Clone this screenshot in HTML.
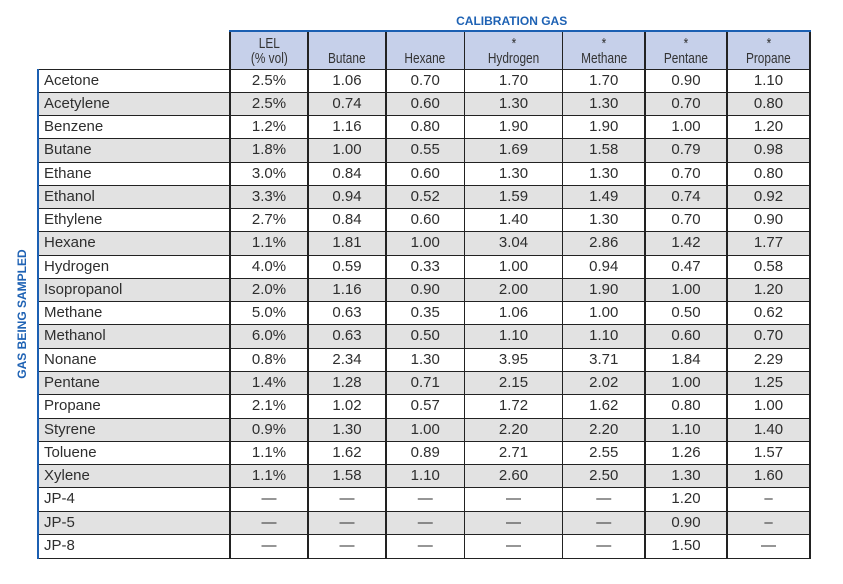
<!DOCTYPE html>
<html><head><meta charset="utf-8"><style>
html,body{margin:0;padding:0;background:#fff;}
body{width:843px;height:584px;position:relative;overflow:hidden;font-family:"Liberation Sans",Arial,sans-serif;color:#2e2e2e;}
.abs{position:absolute;}
#hdrbg{left:230px;top:31px;width:580px;height:38.3px;background:#c6d0ea;}
#blueTop{left:229px;top:30px;width:581.5px;height:2.2px;background:#1b5fb2;}
#blueLeft{left:36.8px;top:69px;width:2.4px;height:490px;background:#1b5fb2;}
.vl{position:absolute;top:31px;width:1.5px;height:528px;background:#222;}
#rows{position:absolute;left:38px;top:68.55px;width:772px;}
.r{display:grid;grid-template-columns:192px 78px 78px 78.5px 98px 82.5px 82px 83px;height:23.28px;box-sizing:border-box;border-top:1.5px solid #222;font-size:15px;line-height:21.78px;}
.r.g{background:#e2e2e2;}
.r.last{border-bottom:1.5px solid #222;height:24.78px;}
.r div{text-align:center;white-space:nowrap;}
.r div:first-child{text-align:left;padding-left:6px;}
.hc{position:absolute;top:31px;height:38px;text-align:center;font-size:15px;line-height:14px;color:#333;}
.hc span{display:inline-block;transform:scaleX(0.79);white-space:nowrap;}
.l1{position:absolute;left:0;right:0;top:6px;}
.l2{position:absolute;left:0;right:0;top:20.6px;}
#cal{left:411.7px;top:14.8px;width:200px;text-align:center;font-weight:bold;font-size:12px;line-height:12px;color:#1e62b4;}
#gas{left:-48px;top:307px;width:140px;height:14px;text-align:center;font-weight:bold;font-size:12px;line-height:14px;color:#1e62b4;transform:rotate(-90deg);}
</style></head><body>
<div class="abs" id="cal">CALIBRATION GAS</div>
<div class="abs" id="gas">GAS BEING SAMPLED</div>
<div class="abs" id="hdrbg"></div>

<div class="hc" style="left:230px;width:78px;"><div class="l1"><span>LEL</span></div><div class="l2"><span>(% vol)</span></div></div>
<div class="hc" style="left:308px;width:78px;"><div class="l2"><span>Butane</span></div></div>
<div class="hc" style="left:386px;width:78.5px;"><div class="l2"><span>Hexane</span></div></div>
<div class="hc" style="left:464.5px;width:98px;"><div class="l1"><span>*</span></div><div class="l2"><span>Hydrogen</span></div></div>
<div class="hc" style="left:562.5px;width:82.5px;"><div class="l1"><span>*</span></div><div class="l2"><span>Methane</span></div></div>
<div class="hc" style="left:645px;width:82px;"><div class="l1"><span>*</span></div><div class="l2"><span>Pentane</span></div></div>
<div class="hc" style="left:727px;width:83px;"><div class="l1"><span>*</span></div><div class="l2"><span>Propane</span></div></div>

<div id="rows">
<div class="r"><div>Acetone</div><div>2.5%</div><div>1.06</div><div>0.70</div><div>1.70</div><div>1.70</div><div>0.90</div><div>1.10</div></div>
<div class="r g"><div>Acetylene</div><div>2.5%</div><div>0.74</div><div>0.60</div><div>1.30</div><div>1.30</div><div>0.70</div><div>0.80</div></div>
<div class="r"><div>Benzene</div><div>1.2%</div><div>1.16</div><div>0.80</div><div>1.90</div><div>1.90</div><div>1.00</div><div>1.20</div></div>
<div class="r g"><div>Butane</div><div>1.8%</div><div>1.00</div><div>0.55</div><div>1.69</div><div>1.58</div><div>0.79</div><div>0.98</div></div>
<div class="r"><div>Ethane</div><div>3.0%</div><div>0.84</div><div>0.60</div><div>1.30</div><div>1.30</div><div>0.70</div><div>0.80</div></div>
<div class="r g"><div>Ethanol</div><div>3.3%</div><div>0.94</div><div>0.52</div><div>1.59</div><div>1.49</div><div>0.74</div><div>0.92</div></div>
<div class="r"><div>Ethylene</div><div>2.7%</div><div>0.84</div><div>0.60</div><div>1.40</div><div>1.30</div><div>0.70</div><div>0.90</div></div>
<div class="r g"><div>Hexane</div><div>1.1%</div><div>1.81</div><div>1.00</div><div>3.04</div><div>2.86</div><div>1.42</div><div>1.77</div></div>
<div class="r"><div>Hydrogen</div><div>4.0%</div><div>0.59</div><div>0.33</div><div>1.00</div><div>0.94</div><div>0.47</div><div>0.58</div></div>
<div class="r g"><div>Isopropanol</div><div>2.0%</div><div>1.16</div><div>0.90</div><div>2.00</div><div>1.90</div><div>1.00</div><div>1.20</div></div>
<div class="r"><div>Methane</div><div>5.0%</div><div>0.63</div><div>0.35</div><div>1.06</div><div>1.00</div><div>0.50</div><div>0.62</div></div>
<div class="r g"><div>Methanol</div><div>6.0%</div><div>0.63</div><div>0.50</div><div>1.10</div><div>1.10</div><div>0.60</div><div>0.70</div></div>
<div class="r"><div>Nonane</div><div>0.8%</div><div>2.34</div><div>1.30</div><div>3.95</div><div>3.71</div><div>1.84</div><div>2.29</div></div>
<div class="r g"><div>Pentane</div><div>1.4%</div><div>1.28</div><div>0.71</div><div>2.15</div><div>2.02</div><div>1.00</div><div>1.25</div></div>
<div class="r"><div>Propane</div><div>2.1%</div><div>1.02</div><div>0.57</div><div>1.72</div><div>1.62</div><div>0.80</div><div>1.00</div></div>
<div class="r g"><div>Styrene</div><div>0.9%</div><div>1.30</div><div>1.00</div><div>2.20</div><div>2.20</div><div>1.10</div><div>1.40</div></div>
<div class="r"><div>Toluene</div><div>1.1%</div><div>1.62</div><div>0.89</div><div>2.71</div><div>2.55</div><div>1.26</div><div>1.57</div></div>
<div class="r g"><div>Xylene</div><div>1.1%</div><div>1.58</div><div>1.10</div><div>2.60</div><div>2.50</div><div>1.30</div><div>1.60</div></div>
<div class="r"><div>JP-4</div><div>—</div><div>—</div><div>—</div><div>—</div><div>—</div><div>1.20</div><div>–</div></div>
<div class="r g"><div>JP-5</div><div>—</div><div>—</div><div>—</div><div>—</div><div>—</div><div>0.90</div><div>–</div></div>
<div class="r last"><div>JP-8</div><div>—</div><div>—</div><div>—</div><div>—</div><div>—</div><div>1.50</div><div>—</div></div>
</div>

<div class="vl" style="left:229.25px;"></div>
<div class="vl" style="left:307.25px;"></div>
<div class="vl" style="left:385.25px;"></div>
<div class="vl" style="left:463.75px;"></div>
<div class="vl" style="left:561.75px;"></div>
<div class="vl" style="left:644.25px;"></div>
<div class="vl" style="left:726.25px;"></div>
<div class="vl" style="left:809.25px;"></div>
<div class="abs" id="blueTop"></div>
<div class="abs" id="blueLeft"></div>
</body></html>
